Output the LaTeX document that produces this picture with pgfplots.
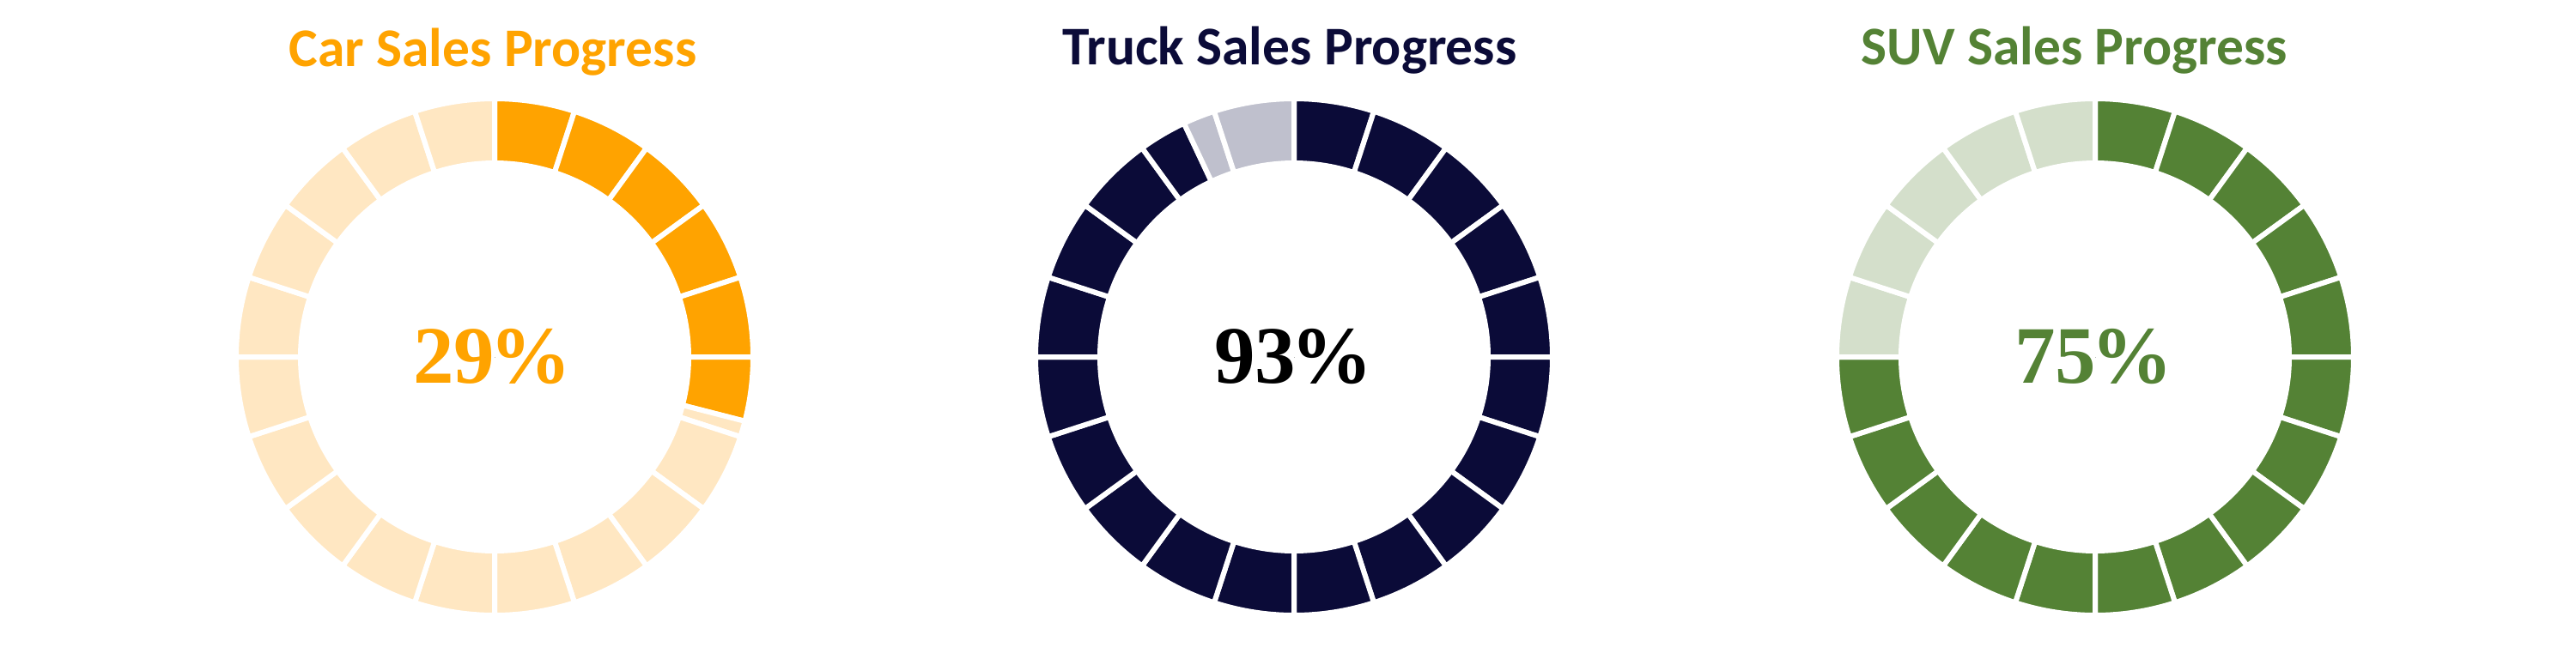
\documentclass[border=0pt]{standalone}
\usepackage{fontspec}
\setmainfont{Liberation Serif}
\newfontfamily\carlito{Carlito}
\usepackage{pgfplots}
\usepackage{pgfplotstable}
\pgfplotsset{compat=1.18}

\definecolor{carDark}{HTML}{FFA300}
\definecolor{carLight}{HTML}{FFE7C2}
\definecolor{truckDark}{HTML}{0B0B38}
\definecolor{truckLight}{HTML}{BFC0CD}
\definecolor{suvDark}{HTML}{548235}
\definecolor{suvLight}{HTML}{D4DFCB}

\tikzset{
  charttitle/.style={anchor=base, font=\carlito\bfseries\fontsize{12.7}{15}\selectfont},
  pct/.style={anchor=base, font=\bfseries\fontsize{19}{22}\selectfont},
}
% each row is one slice of a ring: from..to in percent, clockwise from 12 o'clock
\pgfplotsset{
  sector/.style={scatter, only marks, mark=*, mark size=0pt,
    mark options={draw=none, fill=none},
    visualization depends on={\thisrow{from} \as \pfrom},
    visualization depends on={\thisrow{to} \as \pto},
    scatter/@pre marker code/.code={%
      \begingroup
      \pgfkeys{/pgf/fpu=true,/pgf/fpu/output format=fixed}%
      \pgfmathsetmacro\angA{90-3.6*\pfrom}%
      \pgfmathsetmacro\angB{90-3.6*\pto}%
      \pgfkeys{/pgf/fpu=false}%
      \fill[fill=#1, draw=white, line width=1.2pt]
        (\angA:60.2pt) arc[start angle=\angA, end angle=\angB, radius=60.2pt]
        -- (\angB:45.2pt) arc[start angle=\angB, end angle=\angA, radius=45.2pt]
        -- cycle;
      \endgroup
      \begingroup
    },
    scatter/@post marker code/.code={\endgroup}},
}

% cx, cy: centre of the ring (px); from, to: slice in percent
\pgfplotstableread{
cx cy from to
576 337 0 5
576 337 5 10
576 337 10 15
576 337 15 20
576 337 20 25
576 337 25 29
}\carDone
\pgfplotstableread{
cx cy from to
576 337 29 30
576 337 30 35
576 337 35 40
576 337 40 45
576 337 45 50
576 337 50 55
576 337 55 60
576 337 60 65
576 337 65 70
576 337 70 75
576 337 75 80
576 337 80 85
576 337 85 90
576 337 90 95
576 337 95 100
}\carLeft

\pgfplotstableread{
cx cy from to
1507 337 0 5
1507 337 5 10
1507 337 10 15
1507 337 15 20
1507 337 20 25
1507 337 25 30
1507 337 30 35
1507 337 35 40
1507 337 40 45
1507 337 45 50
1507 337 50 55
1507 337 55 60
1507 337 60 65
1507 337 65 70
1507 337 70 75
1507 337 75 80
1507 337 80 85
1507 337 85 90
1507 337 90 93
}\truckDone
\pgfplotstableread{
cx cy from to
1507 337 93 95
1507 337 95 100
}\truckLeft

\pgfplotstableread{
cx cy from to
2440 337 0 5
2440 337 5 10
2440 337 10 15
2440 337 15 20
2440 337 20 25
2440 337 25 30
2440 337 30 35
2440 337 35 40
2440 337 40 45
2440 337 45 50
2440 337 50 55
2440 337 55 60
2440 337 60 65
2440 337 65 70
2440 337 70 75
}\suvDone
\pgfplotstableread{
cx cy from to
2440 337 75 80
2440 337 80 85
2440 337 85 90
2440 337 90 95
2440 337 95 100
}\suvLeft

\begin{document}
\begin{tikzpicture}
\begin{axis}[
  x=0.2pt, y=0.2pt,
  xmin=0, xmax=3000, ymin=0, ymax=753,
  hide axis,
  clip=false,
]
\addplot[sector=carDark] table[x=cx, y=cy] {\carDone};
\addplot[sector=carLight] table[x=cx, y=cy] {\carLeft};
\addplot[sector=truckDark] table[x=cx, y=cy] {\truckDone};
\addplot[sector=truckLight] table[x=cx, y=cy] {\truckLeft};
\addplot[sector=suvDark] table[x=cx, y=cy] {\suvDone};
\addplot[sector=suvLight] table[x=cx, y=cy] {\suvLeft};

\node[charttitle, text=carDark] at (axis cs:574,676) {Car Sales Progress};
\node[charttitle, text=truckDark] at (axis cs:1502,678) {Truck Sales Progress};
\node[charttitle, text=suvDark] at (axis cs:2416,678) {SUV Sales Progress};

\node[pct, text=carDark] at (axis cs:573,307) {29\kern-1.2pt\%};
\node[pct, text=black] at (axis cs:1506,307) {93\kern-1.2pt\%};
\node[pct, text=suvDark] at (axis cs:2438,307) {75\kern-1.2pt\%};
\end{axis}
\pgfresetboundingbox
\path[use as bounding box] (current axis.south west) rectangle (current axis.north east);
\end{tikzpicture}
\end{document}
